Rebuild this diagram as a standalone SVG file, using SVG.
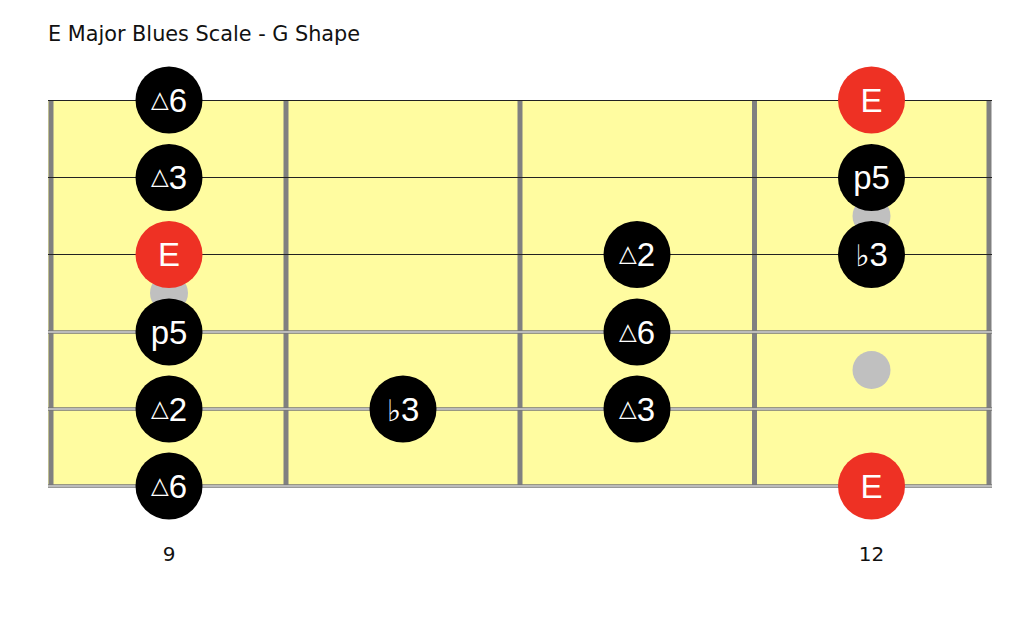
<svg xmlns="http://www.w3.org/2000/svg" width="1024" height="624" viewBox="0 0 1024 624">
<style>
.title{font-family:"DejaVu Sans",Verdana,sans-serif;font-size:20.8px;fill:#111}
.num{font-family:"DejaVu Sans",Verdana,sans-serif;font-size:20px;fill:#111;text-anchor:middle}
.fret{stroke:#808080;stroke-width:5}
.thin{stroke:#222;stroke-width:1.2}
.wound{stroke:#777;stroke-width:3.5}
.woundc{stroke:#fff;stroke-width:1.2}
.inlay{fill:#c0c0c0}
.note{fill:#000}
.root{fill:#ee3124}
.lbl{font-family:"Liberation Sans",Arial,sans-serif;font-size:33px;fill:#fff;text-anchor:middle}
.sm{font-size:23px;font-family:"DejaVu Sans",sans-serif}
.fl{font-size:30px;font-family:"DejaVu Sans",sans-serif}
</style>
<rect width="1024" height="624" fill="#fff"/>
<text class="title" x="48" y="41">E Major Blues Scale - G Shape</text>
<g id="fretboard">
<rect x="48" y="100" width="943" height="386" fill="#fffca0"/>
<line class="fret" x1="51" y1="100" x2="51" y2="486"/>
<line class="fret" x1="286" y1="100" x2="286" y2="486"/>
<line class="fret" x1="520" y1="100" x2="520" y2="486"/>
<line class="fret" x1="754.5" y1="100" x2="754.5" y2="486"/>
<line class="fret" x1="989" y1="100" x2="989" y2="486"/>
<line class="thin" x1="48" y1="100.5" x2="992" y2="100.5" stroke="#888"/>
<line class="thin" x1="48" y1="177.5" x2="992" y2="177.5"/>
<line class="thin" x1="48" y1="254.5" x2="992" y2="254.5"/>
<line class="wound" x1="48" y1="332" x2="992" y2="332"/>
<line class="woundc" x1="48" y1="332" x2="992" y2="332"/>
<line class="wound" x1="48" y1="409" x2="992" y2="409"/>
<line class="woundc" x1="48" y1="409" x2="992" y2="409"/>
<line class="wound" x1="48" y1="486" x2="992" y2="486"/>
<line class="woundc" x1="48" y1="486" x2="992" y2="486"/>
<circle class="inlay" cx="169" cy="293" r="19"/>
<circle class="inlay" cx="871.5" cy="216" r="19"/>
<circle class="inlay" cx="871.5" cy="370" r="19"/>
</g>
<g id="connectors"/>
<g id="n-9-1"><circle class="note" cx="169" cy="100" r="33.5"/><text class="lbl" x="169" y="111.5"><tspan class="sm" dy="-5">△</tspan><tspan dy="5">6</tspan></text></g>
<g id="n-9-2"><circle class="note" cx="169" cy="177.5" r="33.5"/><text class="lbl" x="169" y="189"><tspan class="sm" dy="-5">△</tspan><tspan dy="5">3</tspan></text></g>
<g id="n-9-3"><circle class="root" cx="169" cy="254.5" r="33.5"/><text class="lbl" x="169" y="266">E</text></g>
<g id="n-9-4"><circle class="note" cx="169" cy="332" r="33.5"/><text class="lbl" x="169" y="343.5">p5</text></g>
<g id="n-9-5"><circle class="note" cx="169" cy="409" r="33.5"/><text class="lbl" x="169" y="420.5"><tspan class="sm" dy="-5">△</tspan><tspan dy="5">2</tspan></text></g>
<g id="n-9-6"><circle class="note" cx="169" cy="486" r="33.5"/><text class="lbl" x="169" y="497.5"><tspan class="sm" dy="-5">△</tspan><tspan dy="5">6</tspan></text></g>
<g id="n-10-5"><circle class="note" cx="403" cy="409" r="33.5"/><text class="lbl" x="403" y="420.5"><tspan class="fl">♭</tspan>3</text></g>
<g id="n-11-3"><circle class="note" cx="637" cy="254.5" r="33.5"/><text class="lbl" x="637" y="266"><tspan class="sm" dy="-5">△</tspan><tspan dy="5">2</tspan></text></g>
<g id="n-11-4"><circle class="note" cx="637" cy="332" r="33.5"/><text class="lbl" x="637" y="343.5"><tspan class="sm" dy="-5">△</tspan><tspan dy="5">6</tspan></text></g>
<g id="n-11-5"><circle class="note" cx="637" cy="409" r="33.5"/><text class="lbl" x="637" y="420.5"><tspan class="sm" dy="-5">△</tspan><tspan dy="5">3</tspan></text></g>
<g id="n-12-1"><circle class="root" cx="871.5" cy="100" r="33.5"/><text class="lbl" x="871.5" y="111.5">E</text></g>
<g id="n-12-2"><circle class="note" cx="871.5" cy="177.5" r="33.5"/><text class="lbl" x="871.5" y="189">p5</text></g>
<g id="n-12-3"><circle class="note" cx="871.5" cy="254.5" r="33.5"/><text class="lbl" x="871.5" y="266"><tspan class="fl">♭</tspan>3</text></g>
<g id="n-12-6"><circle class="root" cx="871.5" cy="486" r="33.5"/><text class="lbl" x="871.5" y="497.5">E</text></g>
<text class="num" x="169" y="561">9</text>
<text class="num" x="871.5" y="561">12</text>
</svg>
